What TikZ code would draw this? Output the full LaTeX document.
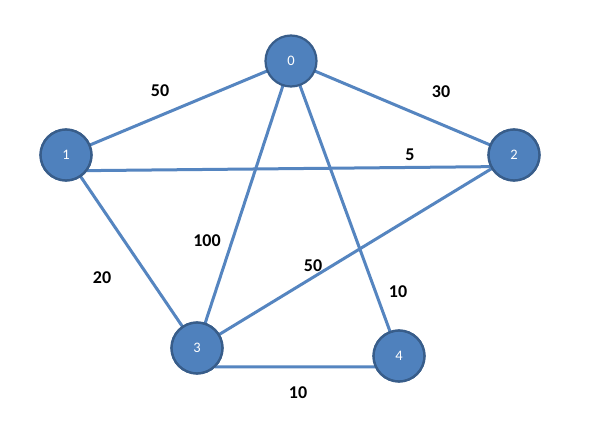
\documentclass[tikz,border=0pt]{standalone}
\usepackage{fontspec}
\setmainfont{Carlito}
\definecolor{nodefill}{HTML}{4F81BD}
\definecolor{nodeborder}{HTML}{385D8A}
\definecolor{edgecol}{HTML}{5585C0}
\begin{document}
\begin{tikzpicture}[x=1pt,y=-1pt,
  vert/.style={circle, fill=nodefill, draw=nodeborder, line width=2.2pt, minimum size=51pt, inner sep=0pt, text=white, font=\fontsize{14.5}{17}\selectfont},
  ring/.style={vert, fill=none},
  edge/.style={draw=edgecol, line width=3pt},
  wlabel/.style={font=\bfseries\fontsize{18}{21}\selectfont, text=black, inner sep=1pt}]
\useasboundingbox (0,0) rectangle (591,430);
\fill[white] (0,0) rectangle (591,430);
\coordinate (c0) at (291,61);
\coordinate (c1) at (66,155);
\coordinate (c2) at (514,155);
\coordinate (c3) at (197,348);
\coordinate (c4) at (399,356);
% edges
\draw[edge] (c0) -- (c1);
\draw[edge] (c0) -- (c2);
\draw[edge] (c0) -- (c3);
\draw[edge] (c0) -- (c4);
\draw[edge] (c1) -- (c3);
\draw[edge] (c2) -- (c3);
\node[vert] (n0) at (c0) {0};
\node[vert] (n1) at (c1) {1};
\node[vert] (n2) at (c2) {2};
\node[vert] (n3) at (c3) {3};
\node[vert] (n4) at (c4) {4};
\draw[edge, shorten <=-1pt, shorten >=-1pt] (n1.-36) -- (n2.-154);
\draw[edge, shorten <=-1pt, shorten >=-1pt] (n3.-45) -- (n4.-156);
% redraw node borders over the two offset edges
\node[ring] (r1) at (c1) {};
\node[ring] (r2) at (c2) {};
\node[ring] (r3) at (c3) {};
\node[ring] (r4) at (c4) {};
% labels
\node[wlabel] (l01) at (160,91) {50};
\node[wlabel] (l02) at (441,92) {30};
\node[wlabel] (l12) at (410,155) {5};
\node[wlabel] (l03) at (207,241) {100};
\node[wlabel] (l13) at (102,278) {20};
\node[wlabel] (l23) at (313,266) {50};
\node[wlabel] (l04) at (398,292) {10};
\node[wlabel] (l34) at (298,393) {10};
\end{tikzpicture}
\end{document}
